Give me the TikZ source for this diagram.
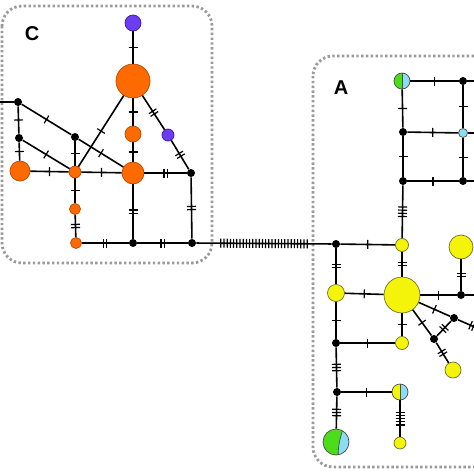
\documentclass[tikz,border=0pt]{standalone}
\usepackage{fontspec}
\setmainfont{Liberation Sans}
\usetikzlibrary{decorations.markings}
\definecolor{orf}{HTML}{FF6A00}
\definecolor{ord}{HTML}{B84A00}
\definecolor{puf}{HTML}{6A3DF5}
\definecolor{pud}{HTML}{3A1A9A}
\definecolor{yef}{HTML}{F4F40A}
\definecolor{yed}{HTML}{70702A}
\definecolor{grf}{HTML}{4CDD1A}
\definecolor{cyf}{HTML}{8CDCF5}
\definecolor{boxc}{HTML}{9A9A9A}
\tikzset{
  base/.style={circle,inner sep=0pt,line width=0.7pt},
  blk/.style={base,fill=black,minimum size=8pt},
  orn/.style={base,fill=orf,draw=ord,minimum size=#1},
  pur/.style={base,fill=puf,draw=pud,minimum size=#1},
  yel/.style={base,fill=yef,draw=yed,minimum size=#1},
  halfgc/.style={base,fill=grf,draw=black!70,minimum size=#1,
    path picture={\fill[cyf] (path picture bounding box.north) rectangle (path picture bounding box.south east);
      \draw[line width=0.7pt,black!70] (path picture bounding box.north) -- (path picture bounding box.south);}},
  halfyc/.style={base,fill=yef,draw=black!70,minimum size=#1,
    path picture={\fill[cyf] (path picture bounding box.north) rectangle (path picture bounding box.south east);
      \draw[line width=0.7pt,black!70] (path picture bounding box.north) -- (path picture bounding box.south);}},
  biggc/.style={base,fill=grf,draw=black!70,minimum size=26pt,
    path picture={\begin{scope}[shift={(path picture bounding box.center)}]
      \fill[cyf] (60:13pt) .. controls (4pt,4pt) and (2pt,-5pt) .. (-80:13pt)
         arc[start angle=-80,end angle=60,radius=13pt] -- cycle;
      \draw[line width=0.7pt,black!70] (60:13pt) .. controls (4pt,4pt) and (2pt,-5pt) .. (-80:13pt);
      \end{scope}}},
  ln/.style={line width=1.6pt,black},
  tk/.style={postaction={decorate,decoration={markings,mark=at position 0.5 with {\foreach \k in {1,...,#1}{\draw[line width=1.2pt] ({(\k-(#1+1)/2)*3.2pt},-4.5pt) -- ++(0,9pt);}}}}},
  dotbox/.style={draw=boxc,line width=2.8pt,dash pattern=on 2.4pt off 2.4pt,rounded corners=20pt},
  lab/.style={font=\bfseries\fontsize{20}{20}\selectfont,inner sep=0pt}
}
\begin{document}
\begin{tikzpicture}[x=1pt,y=-1pt]
\useasboundingbox (0,0) rectangle (474,474);
\fill[white] (0,0) rectangle (474,474);
% boxes
\draw[dotbox] (2,6) rectangle (212,263);
\draw[dotbox] (313,56) rectangle (495,467);
\node[lab] (labC) at (32,34) {C};
\node[lab] (labA) at (341,88) {A};
% C nodes
\node[pur=16pt] (P1) at (133,23) {};
\node[orn=34pt] (O1) at (133,81) {};
\node[orn=16pt] (O2) at (133,134) {};
\node[pur=12pt] (P2) at (168,135) {};
\node[blk] (k1) at (18,102) {};
\node[blk] (k2) at (19,138) {};
\node[blk] (k3) at (75,137) {};
\node[orn=20pt] (O3) at (20,171) {};
\node[orn=12pt] (o4) at (75,172) {};
\node[orn=22pt] (O5) at (133,173) {};
\node[blk] (k4) at (191,173) {};
\node[orn=11pt] (o6) at (75,209) {};
\node[orn=11pt] (o7) at (76,243) {};
\node[blk] (k5) at (133,243) {};
\node[blk] (k6) at (192,243) {};
\coordinate (e0) at (-4,102);
% A nodes
\node[halfgc=16pt] (g1) at (402,81) {};
\node[blk] (a1) at (463,81) {};
\node[blk] (a2) at (403,132) {};
\node[base,fill=cyf,draw=black!70,minimum size=9pt] (cy) at (463,133) {};
\node[blk] (a3) at (403,181) {};
\node[blk] (a4) at (463,181) {};
\node[yel=13pt] (y1) at (402,245) {};
\node[blk] (a5) at (336,244) {};
\node[yel=24pt] (yb) at (461,247) {};
\node[yel=36pt] (Y) at (402,295) {};
\node[yel=17pt] (y2) at (336,293) {};
\node[blk] (a6) at (461,295) {};
\node[blk] (a7) at (454,318) {};
\node[blk] (a8) at (434,339) {};
\node[yel=16pt] (y4) at (453,370) {};
\node[blk] (a9) at (336,343) {};
\node[yel=13pt] (y5) at (402,343) {};
\node[blk] (a10) at (337,392) {};
\node[halfyc=16pt] (yc) at (400,392) {};
\node[yel=12pt] (y6) at (400,443) {};
\node[biggc] (gb) at (336,442) {};
\coordinate (e1) at (480,81);
\coordinate (e2) at (480,133);
\coordinate (e3) at (480,181);
\coordinate (e4) at (480,295);
\coordinate (e5) at (486,332);
% C edges
\draw[ln] (e0) -- (k1);
\draw[ln,tk=1] (P1) -- (O1);
\draw[ln,tk=1] (O1) -- (O2);
\draw[ln,tk=1] (O2) -- (O5);
\draw[ln,tk=1] (O1) -- (o4);
\draw[ln,tk=2] (O1) -- (P2);
\draw[ln,tk=2] (P2) -- (k4);
\draw[ln,tk=1] (k1) -- (k2);
\draw[ln,tk=1] (k2) -- (O3);
\draw[ln,tk=1] (k1) -- (k3);
\draw[ln,tk=1] (k3) -- (O5);
\draw[ln,tk=1] (k2) -- (o4);
\draw[ln,tk=1] (k3) -- (o4);
\draw[ln,tk=1] (O3) -- (o4);
\draw[ln,tk=1] (o4) -- (O5);
\draw[ln,tk=2] (O5) -- (k4);
\draw[ln,tk=2] (k4) -- (k6);
\draw[ln,tk=1] (o4) -- (o6);
\draw[ln,tk=2] (o6) -- (o7);
\draw[ln,tk=2] (O5) -- (k5);
\draw[ln,tk=2] (o7) -- (k5);
\draw[ln,tk=2] (k5) -- (k6);
\draw[ln,tk=28] (k6) -- (a5);
% A edges
\draw[ln,tk=1] (g1) -- (a1);
\draw[ln] (a1) -- (e1);
\draw[ln,tk=1] (g1) -- (a2);
\draw[ln,tk=1] (a1) -- (cy);
\draw[ln,tk=1] (a2) -- (cy);
\draw[ln] (cy) -- (e2);
\draw[ln,tk=1] (a2) -- (a3);
\draw[ln,tk=1] (cy) -- (a4);
\draw[ln,tk=1] (a3) -- (a4);
\draw[ln] (a4) -- (e3);
\draw[ln,tk=4] (a3) -- (y1);
\draw[ln,tk=1] (a5) -- (y1);
\draw[ln,tk=2] (a5) -- (y2);
\draw[ln,tk=2] (y1) -- (Y);
\draw[ln,tk=1] (y2) -- (Y);
\draw[ln,tk=1] (Y) -- (a6);
\draw[ln,tk=2] (a6) -- (yb);
\draw[ln] (a6) -- (e4);
\draw[ln,tk=1] (Y) -- (a7);
\draw[ln,tk=2] (a7) -- (e5);
\draw[ln,tk=1] (Y) -- (a8);
\draw[ln,tk=2] (a7) -- (a8);
\draw[ln,tk=2] (a8) -- (y4);
\draw[ln,tk=1] (y2) -- (a9);
\draw[ln,tk=1] (a9) -- (y5);
\draw[ln,tk=1] (Y) -- (y5);
\draw[ln,tk=3] (a9) -- (a10);
\draw[ln,tk=1] (a10) -- (yc);
\draw[ln,tk=3] (a10) -- (gb);
\draw[ln,tk=5] (yc) -- (y6);
\end{tikzpicture}
\end{document}
